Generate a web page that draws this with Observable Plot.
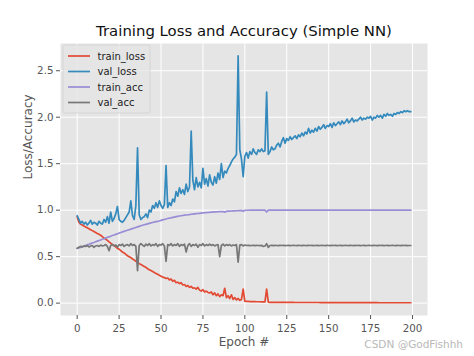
<!DOCTYPE html>
<html>
<head>
<meta charset="utf-8">
<script src="https://cdn.jsdelivr.net/npm/d3@7"></script>
<script src="https://cdn.jsdelivr.net/npm/@observablehq/plot@0.6"></script>
<style>
  html, body { margin: 0; padding: 0; background: #ffffff; }
  #chart { position: relative; width: 474px; height: 356px; }
</style>
</head>
<body>
<div id="chart"></div>
<script>
const seriesNames = ["train_loss", "val_loss", "train_acc", "val_acc"];
const seriesColors = ["#E24A33", "#348ABD", "#988ED5", "#777777"];
const xTicks = [0, 25, 50, 75, 100, 125, 150, 175, 200];
const yTicks = [0.0, 0.5, 1.0, 1.5, 2.0, 2.5];

const trainLoss = [
 0.93,0.87,0.85,0.84,0.83,0.82,0.81,0.80,0.79,0.78,
 0.77,0.76,0.75,0.74,0.73,0.715,0.70,0.69,0.675,0.66,
 0.645,0.63,0.62,0.605,0.59,0.58,0.565,0.55,0.54,0.525,
 0.51,0.50,0.49,0.475,0.465,0.45,0.44,0.425,0.415,0.405,
 0.395,0.385,0.37,0.36,0.35,0.34,0.33,0.32,0.31,0.30,
 0.29,0.28,0.275,0.265,0.27,0.25,0.26,0.235,0.245,0.22,
 0.225,0.21,0.22,0.195,0.20,0.18,0.19,0.17,0.18,0.16,
 0.165,0.15,0.17,0.14,0.13,0.145,0.12,0.13,0.115,0.11,
 0.12,0.09,0.11,0.08,0.10,0.07,0.09,0.08,0.16,0.06,
 0.08,0.05,0.09,0.04,0.06,0.035,0.05,0.03,0.04,0.15,
 0.02,0.018,0.018,0.017,0.017,0.016,0.016,0.015,0.015,0.015,
 0.014,0.014,0.014,0.15,0.010,0.009,0.009,0.008,0.008,0.008,
 0.008,0.008,0.008,0.008,0.008,0.008,0.008,0.008,0.008,0.008,
 0.007,0.007,0.007,0.007,0.007,0.007,0.007,0.007,0.007,0.007,
 0.007,0.007,0.007,0.007,0.007,0.006,0.006,0.006,0.006,0.006,
 0.006,0.006,0.006,0.006,0.006,0.006,0.006,0.006,0.006,0.006,
 0.006,0.005,0.005,0.005,0.005,0.005,0.005,0.005,0.005,0.005,
 0.005,0.005,0.005,0.005,0.005,0.005,0.005,0.005,0.005,0.005,
 0.004,0.004,0.004,0.004,0.004,0.004,0.004,0.004,0.004,0.004,
 0.004,0.004,0.004,0.004,0.004,0.004,0.004,0.004,0.004,0.004
];

const valLoss = [
 0.94,0.90,0.86,0.88,0.85,0.87,0.84,0.86,0.89,0.85,
 0.87,0.86,0.84,0.88,0.86,0.85,0.90,0.87,0.93,0.86,
 0.98,0.88,0.91,0.96,1.04,0.90,0.88,0.87,0.89,0.92,
 0.95,0.98,1.10,0.94,0.90,1.05,1.67,0.95,0.90,0.92,
 0.93,0.96,0.92,1.00,0.98,1.05,1.02,1.08,1.03,1.10,
 1.05,1.02,1.06,1.48,1.03,1.08,1.05,1.12,1.09,1.20,
 1.15,1.24,1.18,1.22,1.17,1.28,1.20,1.25,1.85,1.32,
 1.22,1.35,1.25,1.30,1.24,1.45,1.28,1.34,1.26,1.38,
 1.30,1.27,1.36,1.29,1.40,1.33,1.50,1.35,1.42,1.40,
 1.45,1.48,1.52,1.55,1.57,1.60,2.66,1.65,1.55,1.36,
 1.58,1.62,1.56,1.63,1.60,1.66,1.62,1.60,1.65,1.63,
 1.66,1.63,1.64,2.27,1.60,1.63,1.68,1.65,1.66,1.70,
 1.72,1.68,1.74,1.78,1.72,1.77,1.75,1.79,1.76,1.78,
 1.80,1.77,1.81,1.79,1.83,1.80,1.84,1.82,1.88,1.83,
 1.86,1.84,1.88,1.85,1.90,1.87,1.89,1.92,1.88,1.91,
 1.90,1.93,1.89,1.94,1.91,1.93,1.95,1.92,1.96,1.93,
 1.95,1.98,1.94,1.96,1.99,1.95,1.97,1.96,1.98,2.00,
 1.97,1.99,1.98,2.00,1.99,2.01,1.97,2.00,1.99,2.02,
 2.00,2.02,1.99,2.03,2.01,2.04,2.02,2.03,2.01,2.04,
 2.03,2.05,2.04,2.06,2.05,2.07,2.06,2.07,2.06,2.06
];

const trainAcc = [
 0.59,0.595,0.60,0.607,0.613,0.62,0.627,0.633,0.64,0.647,
 0.653,0.66,0.667,0.673,0.68,0.687,0.693,0.70,0.707,0.713,
 0.72,0.727,0.733,0.74,0.747,0.753,0.76,0.766,0.772,0.778,
 0.784,0.79,0.796,0.802,0.808,0.814,0.82,0.826,0.832,0.838,
 0.843,0.848,0.853,0.858,0.863,0.868,0.872,0.876,0.88,0.884,
 0.89,0.895,0.90,0.905,0.91,0.915,0.918,0.922,0.926,0.93,
 0.934,0.937,0.94,0.943,0.946,0.948,0.951,0.953,0.956,0.958,
 0.96,0.962,0.964,0.966,0.968,0.97,0.972,0.974,0.975,0.977,
 0.978,0.979,0.981,0.982,0.983,0.984,0.985,0.986,0.978,0.988,
 0.989,0.99,0.991,0.992,0.993,0.994,0.995,0.996,0.997,0.988,
 0.998,0.999,0.999,1.0,1.0,1.0,1.0,1.0,1.0,1.0,
 1.0,1.0,1.0,0.98,1.0,1.0,1.0,1.0,1.0,1.0,
 1.0,1.0,1.0,1.0,1.0,1.0,1.0,1.0,1.0,1.0,
 1.0,1.0,1.0,1.0,1.0,1.0,1.0,1.0,1.0,1.0,
 1.0,1.0,1.0,1.0,1.0,1.0,1.0,1.0,1.0,1.0,
 1.0,1.0,1.0,1.0,1.0,1.0,1.0,1.0,1.0,1.0,
 1.0,1.0,1.0,1.0,1.0,1.0,1.0,1.0,1.0,1.0,
 1.0,1.0,1.0,1.0,1.0,1.0,1.0,1.0,1.0,1.0,
 1.0,1.0,1.0,1.0,1.0,1.0,1.0,1.0,1.0,1.0,
 1.0,1.0,1.0,1.0,1.0,1.0,1.0,1.0,1.0,1.0
];

const valAcc = [
 0.59,0.60,0.61,0.605,0.615,0.61,0.62,0.605,0.615,0.62,
 0.60,0.615,0.62,0.61,0.625,0.615,0.62,0.63,0.61,0.565,
 0.62,0.63,0.615,0.625,0.60,0.63,0.62,0.635,0.61,0.625,
 0.63,0.615,0.64,0.62,0.63,0.61,0.35,0.62,0.64,0.625,
 0.61,0.635,0.62,0.64,0.615,0.63,0.62,0.64,0.61,0.63,
 0.625,0.64,0.615,0.45,0.63,0.62,0.64,0.615,0.63,0.62,
 0.64,0.61,0.63,0.62,0.635,0.55,0.62,0.64,0.61,0.63,
 0.62,0.635,0.60,0.63,0.62,0.64,0.615,0.63,0.62,0.635,
 0.62,0.63,0.615,0.625,0.63,0.50,0.62,0.635,0.615,0.63,
 0.62,0.63,0.615,0.625,0.62,0.63,0.44,0.625,0.63,0.615,
 0.625,0.62,0.622,0.618,0.62,0.623,0.619,0.621,0.62,0.618,
 0.622,0.61,0.615,0.64,0.60,0.62,0.622,0.619,0.621,0.62,
 0.618,0.621,0.62,0.622,0.619,0.62,0.621,0.618,0.62,0.622,
 0.62,0.619,0.621,0.62,0.618,0.622,0.62,0.619,0.621,0.62,
 0.621,0.619,0.62,0.622,0.618,0.62,0.621,0.62,0.619,0.621,
 0.62,0.618,0.621,0.62,0.622,0.619,0.62,0.621,0.618,0.62,
 0.622,0.62,0.619,0.621,0.62,0.618,0.621,0.62,0.622,0.619,
 0.62,0.621,0.618,0.62,0.622,0.62,0.619,0.621,0.62,0.618,
 0.621,0.62,0.622,0.619,0.62,0.621,0.618,0.62,0.622,0.62,
 0.619,0.621,0.62,0.618,0.622,0.62,0.621,0.619,0.62,0.62
];

const seriesValues = [trainLoss, valLoss, trainAcc, valAcc];
const rows = [];
seriesValues.forEach((vals, s) => {
  vals.forEach((v, i) => rows.push({epoch: i, value: v, series: seriesNames[s]}));
});

const font = "'DejaVu Sans', sans-serif";
const plot = Plot.plot({
  width: 474,
  height: 356,
  marginLeft: 60,
  marginRight: 47,
  marginTop: 43,
  marginBottom: 41,
  style: {fontFamily: font, background: "white", overflow: "visible"},
  x: {domain: [-9.95, 208.95]},
  y: {domain: [-0.133, 2.793]},
  color: {domain: seriesNames, range: seriesColors},
  marks: [
    Plot.frame({fill: "#E5E5E5", stroke: null}),
    Plot.gridX({ticks: xTicks, stroke: "#ffffff", strokeOpacity: 1, strokeWidth: 1}),
    Plot.gridY({ticks: yTicks, stroke: "#ffffff", strokeOpacity: 1, strokeWidth: 1}),
    ...seriesNames.map(name => Plot.line(rows.filter(d => d.series === name), {
      x: "epoch", y: "value", stroke: "series", strokeWidth: 1.7, strokeLinejoin: "round"
    })),
    Plot.axisX({ticks: xTicks, tickSize: 4, tickPadding: 5, stroke: "#555555", color: "#555555",
      fontSize: 10.3, tickFormat: d3.format("d"), label: null}),
    Plot.axisY({ticks: yTicks, tickSize: 4, tickPadding: 3, stroke: "#555555", color: "#555555",
      fontSize: 10.3, tickFormat: d3.format(".1f"), label: null}),
    Plot.text(["Training Loss and Accuracy (Simple NN)"], {
      text: d => d, frameAnchor: "top", dy: -12, lineAnchor: "middle",
      fontSize: 14.9, fill: "#111111"
    }),
    Plot.text(["Epoch #"], {
      text: d => d, frameAnchor: "bottom", dy: 27, lineAnchor: "middle",
      fontSize: 12, fill: "#555555"
    }),
    Plot.text(["Loss/Accuracy"], {
      text: d => d, frameAnchor: "left", dx: -32, rotate: -90, lineAnchor: "middle",
      fontSize: 12, fill: "#555555"
    })
  ]
});

document.getElementById("chart").appendChild(plot);

// Legend (upper left), drawn into the same SVG
const svg = d3.select(plot);
const lg = svg.append("g").attr("transform", "translate(63,45)");
lg.append("rect").attr("width", 87).attr("height", 68).attr("rx", 2)
  .attr("fill", "#E5E5E5").attr("fill-opacity", 0.8)
  .attr("stroke", "#cccccc").attr("stroke-opacity", 0.8).attr("stroke-width", 0.8);
seriesNames.forEach((name, i) => {
  const yy = 11 + i * 15.5;
  lg.append("line").attr("x1", 5).attr("x2", 27).attr("y1", yy).attr("y2", yy)
    .attr("stroke", seriesColors[i]).attr("stroke-width", 1.7);
  lg.append("text").attr("x", 34.5).attr("y", yy).attr("dy", "0.35em")
    .attr("text-anchor", "start")
    .attr("font-size", 10).attr("font-family", font).attr("fill", "#222222").text(name);
});

// Watermark
svg.append("text").attr("x", 463).attr("y", 348).attr("text-anchor", "end")
  .attr("font-size", 10.5).attr("font-family", font).attr("fill", "#b8b8b8")
  .text("CSDN @GodFishhh");
</script>
</body>
</html>
